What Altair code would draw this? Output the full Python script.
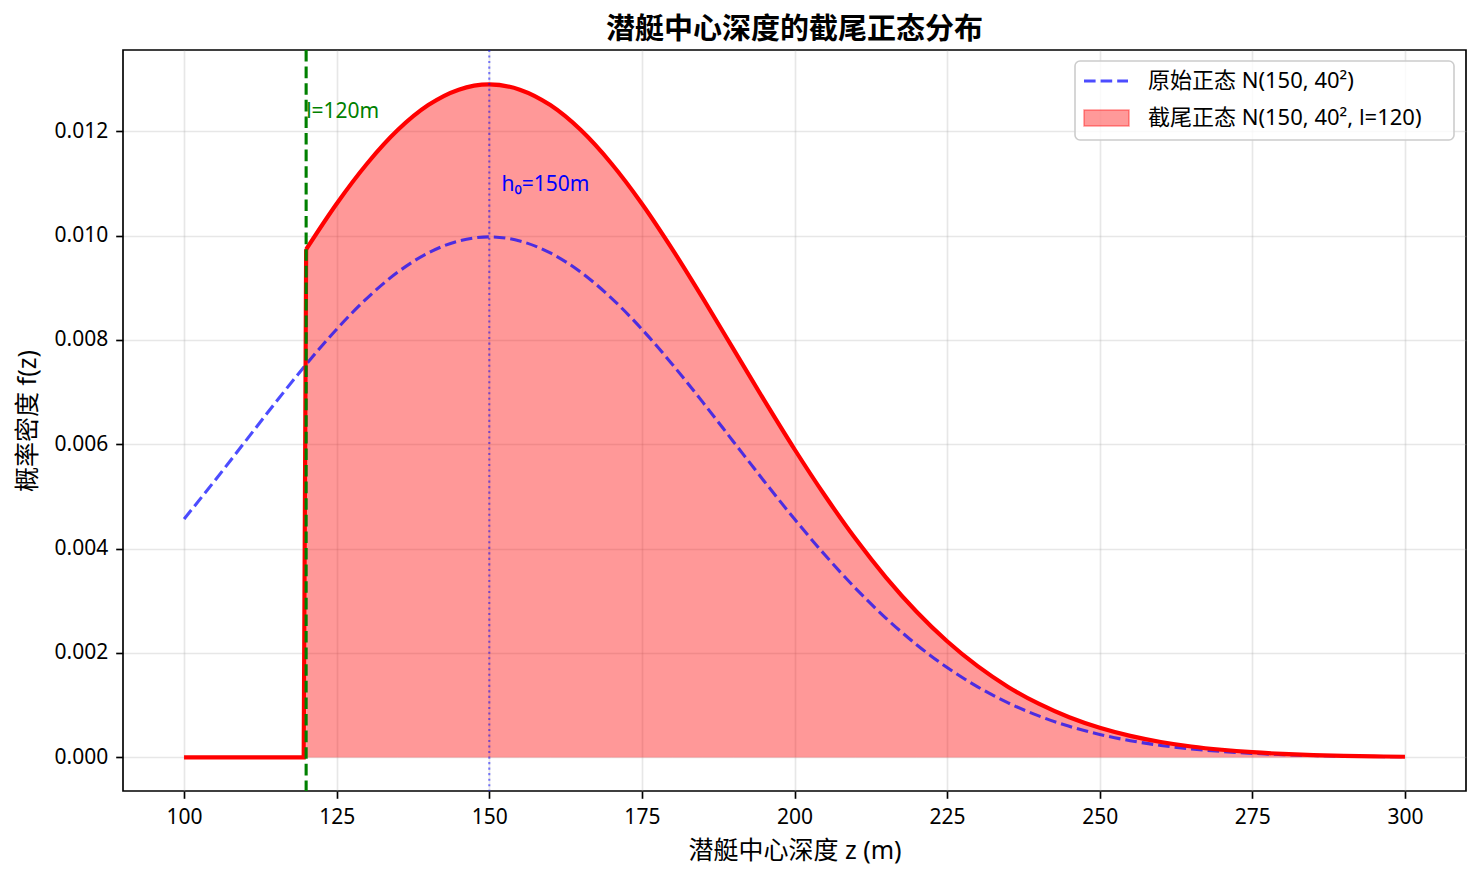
import altair as alt
import pandas as pd

# ---------------- data ----------------
depth = [100, 105, 110, 115, 120, 125, 130, 135, 140, 145, 150, 155, 160, 165, 170,
         175, 180, 185, 190, 195, 200, 205, 210, 215, 220, 225, 230, 235, 240, 245,
         250, 255, 260, 265, 270, 275, 280, 285, 290, 295, 300]
normal_pdf = [0.004566, 0.005297, 0.006049, 0.006802, 0.007529, 0.008205, 0.008802,
              0.009297, 0.009667, 0.009896, 0.009974, 0.009896, 0.009667, 0.009297,
              0.008802, 0.008205, 0.007529, 0.006802, 0.006049, 0.005297, 0.004566,
              0.003876, 0.003238, 0.002664, 0.002158, 0.001720, 0.001350, 0.001043,
              0.000794, 0.000594, 0.000438, 0.000318, 0.000227, 0.000160, 0.000111,
              0.000076, 0.000051, 0.000034, 0.000022, 0.000014, 0.000009]

trunc_depth = [120, 125, 130, 135, 140, 145, 150, 155, 160, 165, 170, 175, 180, 185,
               190, 195, 200, 205, 210, 215, 220, 225, 230, 235, 240, 245, 250, 255,
               260, 265, 270, 275, 280, 285, 290, 295, 300]
trunc_pdf = [0.009735, 0.010610, 0.011381, 0.012021, 0.012500, 0.012796, 0.012897,
             0.012796, 0.012500, 0.012021, 0.011381, 0.010610, 0.009735, 0.008795,
             0.007822, 0.006849, 0.005904, 0.005012, 0.004187, 0.003445, 0.002790,
             0.002224, 0.001746, 0.001349, 0.001027, 0.000768, 0.000566, 0.000411,
             0.000294, 0.000207, 0.000144, 0.000098, 0.000066, 0.000043, 0.000028,
             0.000018, 0.000011]

# zero part of the truncated density and its jump at the truncation point
step_depth = [100, 119.6, 120]
step_pdf = [0.0, 0.0, 0.009735]

x_ticks = [100, 125, 150, 175, 200, 225, 250, 275, 300]
y_ticks = [0.000, 0.002, 0.004, 0.006, 0.008, 0.010, 0.012]

trunc_point = [120]
mean_depth = [150]

ann_text = ["l=120m", "h₀=150m"]
ann_depth = [120, 152]
ann_pdf = [0.01225, 0.01085]

legend_labels = ["原始正态 N(150, 40²)", "截尾正态 N(150, 40², l=120)"]

title_text = "潜艇中心深度的截尾正态分布"
x_title = "潜艇中心深度 z (m)"
y_title = "概率密度 f(z)"

FONT = "Noto Sans, Noto Sans CJK SC"

# ---------------- tables ----------------
df_normal = pd.DataFrame({"z": depth, "f": normal_pdf})
df_trunc = pd.DataFrame({"z": trunc_depth, "f": trunc_pdf})
df_step = pd.DataFrame({"z": step_depth, "f": step_pdf})
df_l = pd.DataFrame({"z": trunc_point})
df_h = pd.DataFrame({"z": mean_depth})
df_ann = pd.DataFrame({"z": ann_depth, "f": ann_pdf, "t": ann_text})
df_one = pd.DataFrame({"a": [0]})

x_scale = alt.Scale(domain=[90, 310], nice=False, zero=False)
y_scale = alt.Scale(domain=[-0.000646, 0.013556], nice=False, zero=False)

x_axis = alt.Axis(title=x_title, values=x_ticks, format="d", grid=True,
                  titlePadding=11)
y_axis = alt.Axis(title=y_title, values=y_ticks, format=".3f", grid=True,
                  titlePadding=14)


def X():
    return alt.X("z:Q", scale=x_scale, axis=x_axis)


def Y():
    return alt.Y("f:Q", scale=y_scale, axis=y_axis)


fill = alt.Chart(df_trunc).mark_area(
    color="red", opacity=0.4, interpolate="monotone",
    stroke="red", strokeOpacity=0.4, strokeWidth=1
).encode(x=X(), y=Y())

normal_line = alt.Chart(df_normal).mark_line(
    color="blue", opacity=0.7, strokeWidth=3.1, strokeDash=[11.6, 5],
    interpolate="monotone", strokeCap="butt"
).encode(x=X(), y=Y())

red_step = alt.Chart(df_step).mark_line(
    color="red", strokeWidth=4.17, strokeJoin="miter"
).encode(x=X(), y=Y())

red_curve = alt.Chart(df_trunc).mark_line(
    color="red", strokeWidth=4.17, interpolate="monotone"
).encode(x=X(), y=Y())

green_rule = alt.Chart(df_l).mark_rule(
    color="green", strokeWidth=3.1, strokeDash=[11.6, 5]
).encode(x=X())

blue_rule = alt.Chart(df_h).mark_rule(
    color="blue", opacity=0.5, strokeWidth=2.08, strokeDash=[2.08, 3.44]
).encode(x=X())

ann = alt.Chart(df_ann).mark_text(
    align="left", baseline="alphabetic", font=FONT, fontSize=21
).encode(
    x=X(), y=Y(), text="t:N",
    color=alt.Color("t:N", scale=alt.Scale(domain=ann_text, range=["green", "blue"]),
                    legend=None)
)

# ---------------- legend (drawn inside the plot, top right) ----------------
leg_box = alt.Chart(df_one).mark_rect(
    fill="white", fillOpacity=0.8, stroke="#cccccc", strokeWidth=1.6, cornerRadius=5
).encode(x=alt.value(952), x2=alt.value(1331), y=alt.value(11), y2=alt.value(90))

leg_line = alt.Chart(df_one).mark_rule(
    color="blue", opacity=0.7, strokeWidth=3.1, strokeDash=[11.6, 5]
).encode(x=alt.value(961), x2=alt.value(1005), y=alt.value(31))

leg_patch = alt.Chart(df_one).mark_rect(
    fill="red", fillOpacity=0.4, stroke="red", strokeOpacity=0.4, strokeWidth=1.5
).encode(x=alt.value(961), x2=alt.value(1006), y=alt.value(60), y2=alt.value(76))

leg_text1 = alt.Chart(df_one).mark_text(
    align="left", baseline="middle", font=FONT, fontSize=22, color="black",
    text=legend_labels[0]
).encode(x=alt.value(1025), y=alt.value(31))

leg_text2 = alt.Chart(df_one).mark_text(
    align="left", baseline="middle", font=FONT, fontSize=22, color="black",
    text=legend_labels[1]
).encode(x=alt.value(1025), y=alt.value(68))

chart = alt.layer(
    fill, normal_line, red_step, red_curve, green_rule, blue_rule, ann,
    leg_box, leg_line, leg_patch, leg_text1, leg_text2
).properties(
    width=1343, height=741,
    title=alt.TitleParams(text=title_text, font=FONT, fontSize=29, fontWeight="bold",
                          anchor="middle", color="black", offset=3),
    autosize=alt.AutoSizeParams(type="none"),
    padding={"left": 123, "top": 50, "right": 14, "bottom": 89},
).configure(
    background="white"
).configure_view(
    stroke="black", strokeWidth=1.67
).configure_axis(
    domain=False,
    gridColor="#b0b0b0", gridOpacity=0.3, gridWidth=1.67,
    tickColor="black", tickWidth=1.67, tickSize=7.3,
    labelFont=FONT, labelFontSize=21, labelColor="black", labelPadding=8,
    titleFont=FONT, titleFontSize=25, titleFontWeight="normal", titleColor="black",
)

chart.save("out.html", embed_options={"renderer": "svg", "actions": False})
